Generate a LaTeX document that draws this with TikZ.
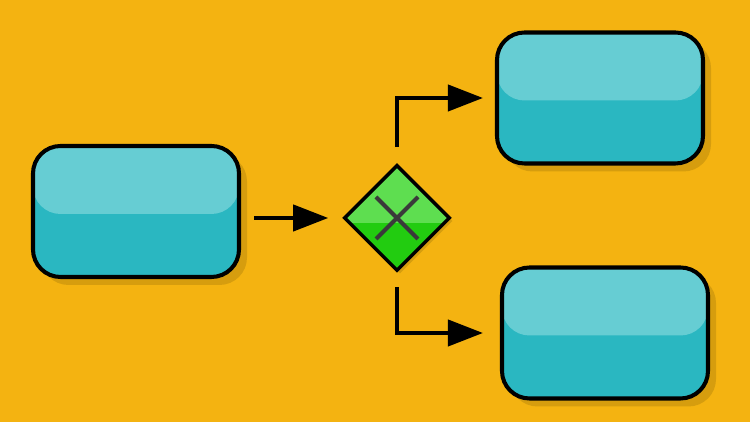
\documentclass[tikz,border=0pt]{standalone}
\usepackage{xcolor}
\usepackage{tikz}
\usetikzlibrary{shapes.geometric, arrows.meta, positioning, shadows}
\definecolor{bgcolor}{RGB}{244,179,17}
\definecolor{shadowcolor}{RGB}{214,157,14}
\definecolor{taskcolor}{RGB}{42,183,193}
\definecolor{taskglosscolor}{RGB}{102,205,211}
\definecolor{gatecolor}{RGB}{34,204,16}
\definecolor{gateglosscolor}{RGB}{94,222,80}
\definecolor{crosscolor}{RGB}{58,58,58}

\begin{document}
\begin{tikzpicture}[
    task/.style={draw=black, line width=2.3pt, fill=taskcolor, minimum width=4.12cm, minimum height=2.62cm, rounded corners=0.55cm, inner sep=0pt,
        drop shadow={shadow xshift=0.16cm, shadow yshift=-0.16cm, fill=shadowcolor, opacity=1},
        path picture={\fill[taskglosscolor, rounded corners=0.55cm] ([yshift=0.6cm]path picture bounding box.north west) rectangle ([yshift=-0.05cm]path picture bounding box.east);}},
    gate/.style={diamond, aspect=1, draw=black, line width=2pt, fill=gatecolor, minimum size=2.12cm, inner sep=0pt,
        drop shadow={shadow xshift=0.06cm, shadow yshift=-0.06cm, fill=shadowcolor, opacity=1},
        path picture={\fill[gateglosscolor] (path picture bounding box.north west) rectangle ([yshift=-0.1cm]path picture bounding box.east);
            \draw[crosscolor, line width=0.08cm] ([shift={(-0.42,0.42)}]path picture bounding box.center) -- ([shift={(0.42,-0.42)}]path picture bounding box.center)
                ([shift={(-0.42,-0.42)}]path picture bounding box.center) -- ([shift={(0.42,0.42)}]path picture bounding box.center);}},
    flow/.style={-{Triangle[length=0.7cm, width=0.52cm]}, line width=2.3pt}
]
    % Background
    \fill[bgcolor] (0,0) rectangle (15,8.44);

    % Tasks
    \node[task] (start) at (2.72,4.21) {};
    \node[task] (upper) at (12.0,6.48) {};
    \node[task] (lower) at (12.1,1.78) {};

    % Gateway
    \node[gate] (gate) at (7.94,4.08) {};

    % Connections
    \draw[flow, shorten <=0.26cm, shorten >=0.28cm] (start.east |- gate.west) -- (gate.west);
    \draw[flow, shorten <=0.32cm, shorten >=0.24cm] (gate) |- (upper);
    \draw[flow, shorten <=0.28cm, shorten >=0.34cm] (gate) |- (lower);
\end{tikzpicture}
\end{document}
